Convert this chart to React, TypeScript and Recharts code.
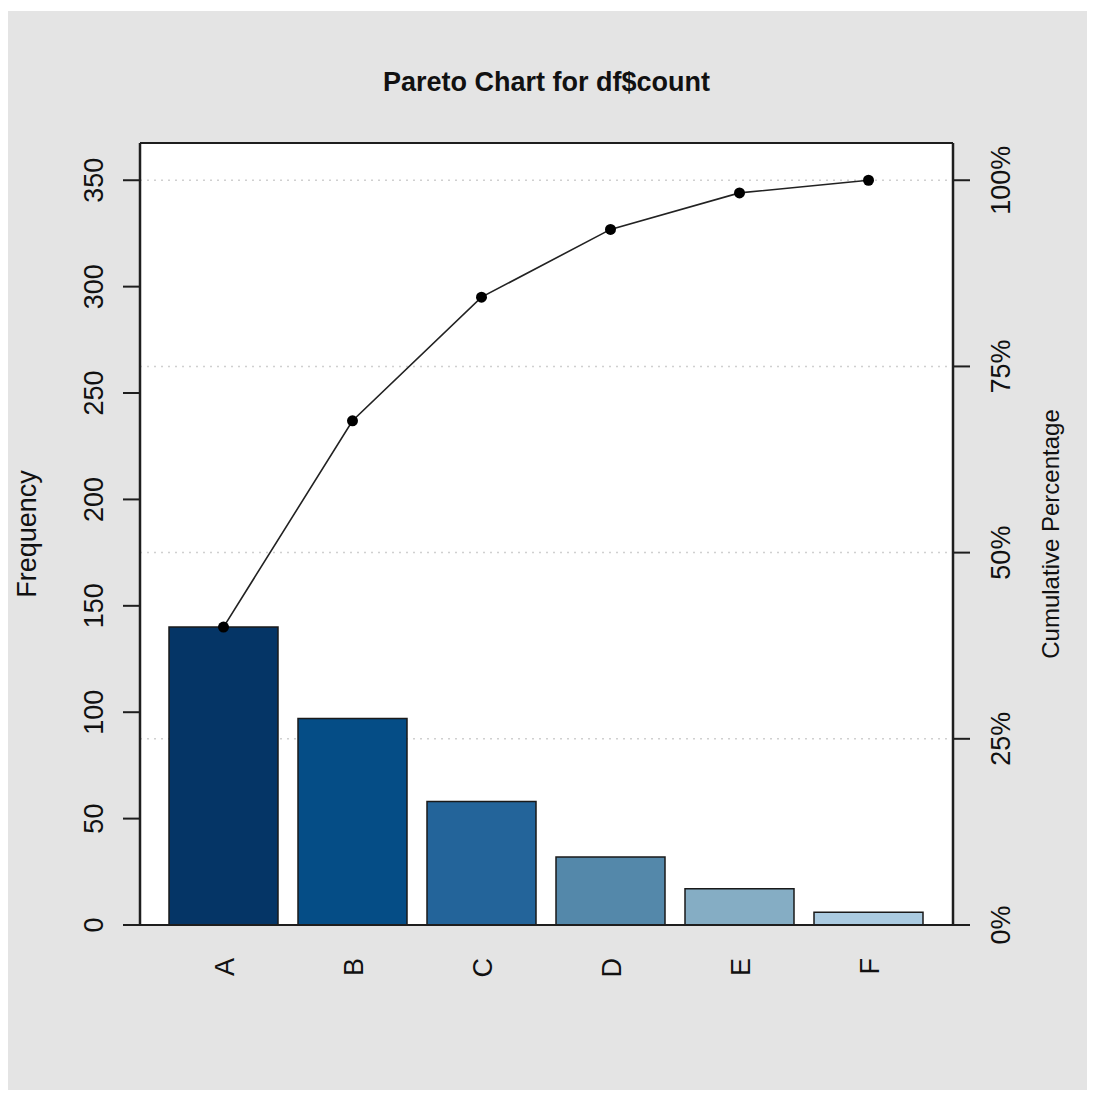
import {
  ComposedChart,
  Bar,
  Line,
  Cell,
  XAxis,
  YAxis,
  CartesianGrid,
} from 'recharts';

const categories = ['A', 'B', 'C', 'D', 'E', 'F'];
const counts = [140, 97, 58, 32, 17, 6];
const cumulativePct = [40, 67.7, 84.3, 93.4, 98.3, 100];
const barColors = ['#053566', '#054d86', '#23649a', '#5488aa', '#85adc4', '#abcbe1'];
const countTicks = [0, 50, 100, 150, 200, 250, 300, 350];
const pctTicks = [0, 25, 50, 75, 100];

const data = categories.map((name, i) => ({
  name,
  count: counts[i],
  cumPct: cumulativePct[i],
}));

const FONT = '"Liberation Sans", Arial, Helvetica, sans-serif';
const INK = '#1e1e1e';

const LeftTick = ({ y, payload }: any) => (
  <text
    x={96}
    y={y}
    transform={`rotate(-90, 96, ${y})`}
    textAnchor="middle"
    fontSize={27}
    fontFamily={FONT}
    fill="#111"
  >
    {payload.value}
  </text>
);

const RightTick = ({ y, payload }: any) => (
  <text
    x={1003}
    y={y}
    transform={`rotate(-90, 1003, ${y})`}
    textAnchor="middle"
    fontSize={27}
    fontFamily={FONT}
    fill="#111"
  >
    {`${payload.value}%`}
  </text>
);

const BottomTick = ({ x, payload }: any) => (
  <text
    x={x + 10}
    y={947}
    transform={`rotate(-90, ${x + 10}, 947)`}
    textAnchor="end"
    fontSize={27}
    fontFamily={FONT}
    fill="#111"
  >
    {payload.value}
  </text>
);

export default function App() {
  return (
    <div
      style={{
        position: 'relative',
        width: 1080,
        height: 1079,
        marginLeft: -1,
        marginTop: 3,
        background: '#e4e4e4',
        fontFamily: FONT,
      }}
    >
      <div
        style={{
          position: 'absolute',
          left: 133,
          width: 813,
          top: 56,
          textAlign: 'center',
          fontSize: 27,
          fontWeight: 'bold',
          color: '#111',
        }}
      >
        Pareto Chart for df$count
      </div>
      <ComposedChart
        width={1080}
        height={1079}
        data={data}
        margin={{ top: 131, right: 0, bottom: 0, left: 0 }}
        barCategoryGap={10}
        style={{ position: 'absolute', left: 0, top: 0 }}
      >
        <CartesianGrid
          yAxisId="pct"
          vertical={false}
          stroke="#d0d0d0"
          strokeDasharray="2 5"
          strokeWidth={1.5}
          fill="#fff"
        />
        <XAxis
          dataKey="name"
          xAxisId="bottom"
          height={165}
          padding={{ left: 19, right: 20 }}
          axisLine={{ stroke: INK, strokeWidth: 2 }}
          tickLine={false}
          tick={<BottomTick />}
          interval={0}
        />
        <XAxis
          dataKey="name"
          xAxisId="top"
          orientation="top"
          height={1}
          axisLine={{ stroke: INK, strokeWidth: 2 }}
          tickLine={false}
          tick={false}
        />
        <YAxis
          yAxisId="count"
          width={133}
          domain={[0, 367.5]}
          ticks={countTicks}
          axisLine={{ stroke: INK, strokeWidth: 2.5 }}
          tickLine={{ stroke: INK, strokeWidth: 2 }}
          tickSize={17}
          tick={<LeftTick />}
          label={{
            content: () => (
              <text
                x={29}
                y={523}
                transform="rotate(-90, 29, 523)"
                textAnchor="middle"
                fontSize={27}
                fontFamily={FONT}
                fill="#111"
              >
                Frequency
              </text>
            ),
          }}
        />
        <YAxis
          yAxisId="pct"
          orientation="right"
          width={134}
          domain={[0, 105]}
          ticks={pctTicks}
          axisLine={{ stroke: INK, strokeWidth: 2.5 }}
          tickLine={{ stroke: INK, strokeWidth: 2 }}
          tickSize={17}
          tick={<RightTick />}
          label={{
            content: () => (
              <text
                x={1052}
                y={523}
                transform="rotate(-90, 1052, 523)"
                textAnchor="middle"
                fontSize={24}
                fontFamily={FONT}
                fill="#111"
              >
                Cumulative Percentage
              </text>
            ),
          }}
        />
        <Bar
          dataKey="count"
          xAxisId="bottom"
          yAxisId="count"
          stroke="#1a1a1a"
          strokeWidth={1.5}
          isAnimationActive={false}
        >
          {data.map((d, i) => (
            <Cell key={d.name} fill={barColors[i]} />
          ))}
        </Bar>
        <Line
          dataKey="cumPct"
          xAxisId="bottom"
          yAxisId="pct"
          stroke="#222"
          strokeWidth={1.6}
          dot={{ r: 5.5, fill: '#000', stroke: '#000', strokeWidth: 0 }}
          activeDot={false}
          isAnimationActive={false}
        />
      </ComposedChart>
    </div>
  );
}
